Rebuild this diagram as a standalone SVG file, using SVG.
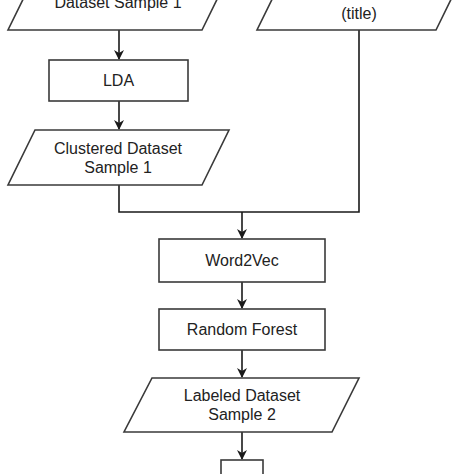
<svg xmlns="http://www.w3.org/2000/svg" width="474" height="474" viewBox="0 0 474 474">
<defs>
<style>
.box{fill:#ffffff;stroke:#3a3a3a;stroke-width:1.6}
.edge{fill:none;stroke:#1a1a1a;stroke-width:1.6}
.t{font-family:"Liberation Sans",Arial,sans-serif;font-size:16px;fill:#222;text-anchor:middle}
</style>
<marker id="arr" viewBox="0 0 10 10" refX="9" refY="5" markerWidth="10" markerHeight="10" markerUnits="userSpaceOnUse" orient="auto">
<path d="M0,0 L10,5 L0,10 L3,5 Z" fill="#1a1a1a"/>
</marker>
</defs>
<rect width="474" height="474" fill="#ffffff"/>
<g id="connectors">
<path class="edge" d="M119,30 V59" marker-end="url(#arr)"/>
<path class="edge" d="M119,101 V129" marker-end="url(#arr)"/>
<path class="edge" d="M119,185 V212 H359 V30"/>
<path class="edge" d="M242,212 V238" marker-end="url(#arr)"/>
<path class="edge" d="M242,282 V308" marker-end="url(#arr)"/>
<path class="edge" d="M242,350 V377" marker-end="url(#arr)"/>
<path class="edge" d="M242,432 V459" marker-end="url(#arr)"/>
</g>
<g id="node-dataset1">
<polygon class="box" points="35,-25 229,-25 202,30 8,30"/>
<text class="t" x="118" y="8">Dataset Sample 1</text>
</g>
<g id="node-title">
<polygon class="box" points="284,-25 463,-25 436,30 257,30"/>
<text class="t" x="359" y="19">(title)</text>
</g>
<g id="node-lda">
<rect class="box" x="49" y="60" width="139" height="41"/>
<text class="t" x="118.5" y="86">LDA</text>
</g>
<g id="node-clustered">
<polygon class="box" points="35,130 229,130 202,185 8,185"/>
<text class="t" x="118" y="154">Clustered Dataset</text>
<text class="t" x="118" y="173">Sample 1</text>
</g>
<g id="node-word2vec">
<rect class="box" x="159" y="239" width="166" height="43"/>
<text class="t" x="242" y="266">Word2Vec</text>
</g>
<g id="node-rf">
<rect class="box" x="159" y="309" width="166" height="41"/>
<text class="t" x="242" y="335">Random Forest</text>
</g>
<g id="node-labeled">
<polygon class="box" points="152,378 359,378 332,432 124,432"/>
<text class="t" x="242" y="401">Labeled Dataset</text>
<text class="t" x="242" y="420">Sample 2</text>
</g>
<g id="node-bottom">
<rect class="box" x="221" y="460" width="42" height="30"/>
</g>
</svg>
